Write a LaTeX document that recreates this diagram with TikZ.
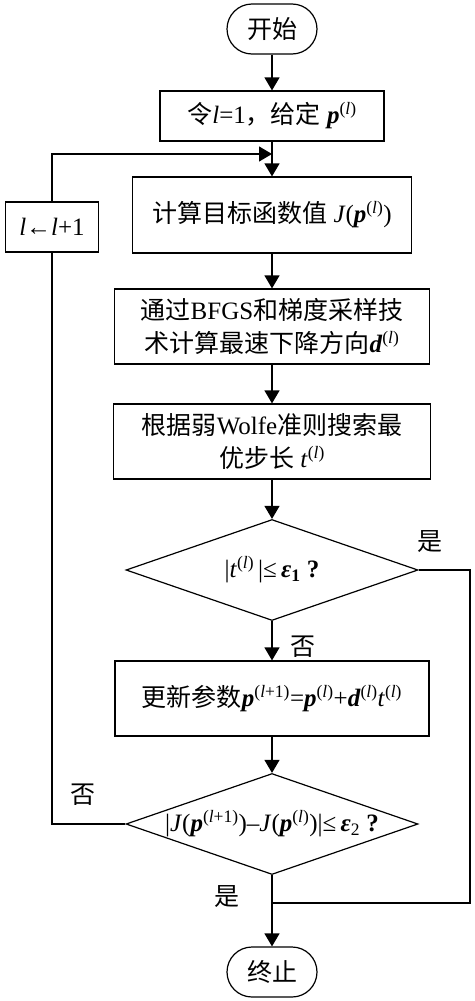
\documentclass[tikz,border=0pt]{standalone}
\usepackage{fontspec}
\setmainfont{Liberation Serif}
\newfontfamily\cjk{Noto Sans CJK SC}
\usetikzlibrary{shapes.geometric,arrows.meta}
\newcommand\bi[1]{\textbf{\textit{#1}}}
\newcommand\supl{\textsuperscript{(\textit{l})}}
\newcommand\suplp{\textsuperscript{(\textit{l}+1)}}
\newcommand\zh[1]{{\cjk #1}}
\begin{document}
\begin{tikzpicture}[x=1pt,y=-1pt,
 every node/.style={font=\fontsize{25}{33}\selectfont},
 box/.style={draw,line width=1.2pt,rectangle,inner sep=0pt,align=center},
 term/.style={draw,line width=1.2pt,rounded corners=25pt,minimum width=90pt,minimum height=50pt,inner sep=0pt},
 dia/.style={draw,line width=1.2pt,diamond,minimum width=292pt,minimum height=101pt,inner sep=0pt},
 line/.style={line width=1.2pt},
 arr/.style={line,-{Triangle[length=13pt,width=15pt]}},
 lbl/.style={inner sep=0pt}]
\useasboundingbox (0,0) rectangle (474,1001);
\node[term] (start) at (272,29) {\zh{开始}};
\node[box,minimum width=224pt,minimum height=50pt] (init) at (272,116) {\zh{令}\textit{l}=1\zh{，给定} \bi{p}\supl};
\coordinate (j1) at (272,154);
\node[box,minimum width=279pt,minimum height=76pt] (calc) at (272,215) {\zh{计算目标函数值} \textit{J}(\bi{p}\supl)};
\node[box,minimum width=315pt,minimum height=75pt] (dir) at (272,326.5) {\zh{通过}BFGS\zh{和梯度采样技}\\\zh{术计算最速下降方向}\bi{d}\supl};
\node[box,minimum width=317pt,minimum height=75pt] (ls) at (272,441.5) {\zh{根据弱}Wolfe\zh{准则搜索最}\\\zh{优步长} \textit{t}\supl};
\node[dia] (d1) at (272,570) {};
\node[lbl] (d1t) at (d1) {|\textit{t}\supl\,|≤\,\bi{ε}\textsubscript{\textbf{1}} \textbf{?}};
\node[box,minimum width=314pt,minimum height=75pt] (upd) at (272,698.5) {\zh{更新参数}\bi{p}\suplp=\bi{p}\supl+\bi{d}\supl\textit{t}\supl};
\node[dia] (d2) at (272,824) {};
\node[lbl] (d2t) at (d2) {|\textit{J}(\bi{p}\suplp)–\textit{J}(\bi{p}\supl)|≤\,\bi{ε}\textsubscript{2} \textbf{?}};
\node[term] (end) at (272,972) {\zh{终止}};
\node[box,minimum width=93pt,minimum height=50pt] (inc) at (52,227) {\textit{l}←\textit{l}+1};
\coordinate (j2) at (272,903);
\coordinate (rt) at (470,570);
\draw[arr] (start) -- (init);
\draw[arr] (init) -- (calc);
\draw[arr] (inc.north) |- (j1);
\draw[arr] (calc) -- (dir);
\draw[arr] (dir) -- (ls);
\draw[arr] (ls) -- (d1);
\draw[arr] (d1) -- (upd);
\draw[arr] (upd) -- (d2);
\draw[arr] (d2) -- (end);
\draw[line] (d1.east) -- (rt) |- (j2);
\draw[line] (d2.west) -| (inc.south);
\node[lbl] (y1) at (430,542) {\zh{是}};
\node[lbl] (n1) at (303,647) {\zh{否}};
\node[lbl] (n2) at (83,795) {\zh{否}};
\node[lbl] (y2) at (227,897) {\zh{是}};
\end{tikzpicture}
\end{document}
